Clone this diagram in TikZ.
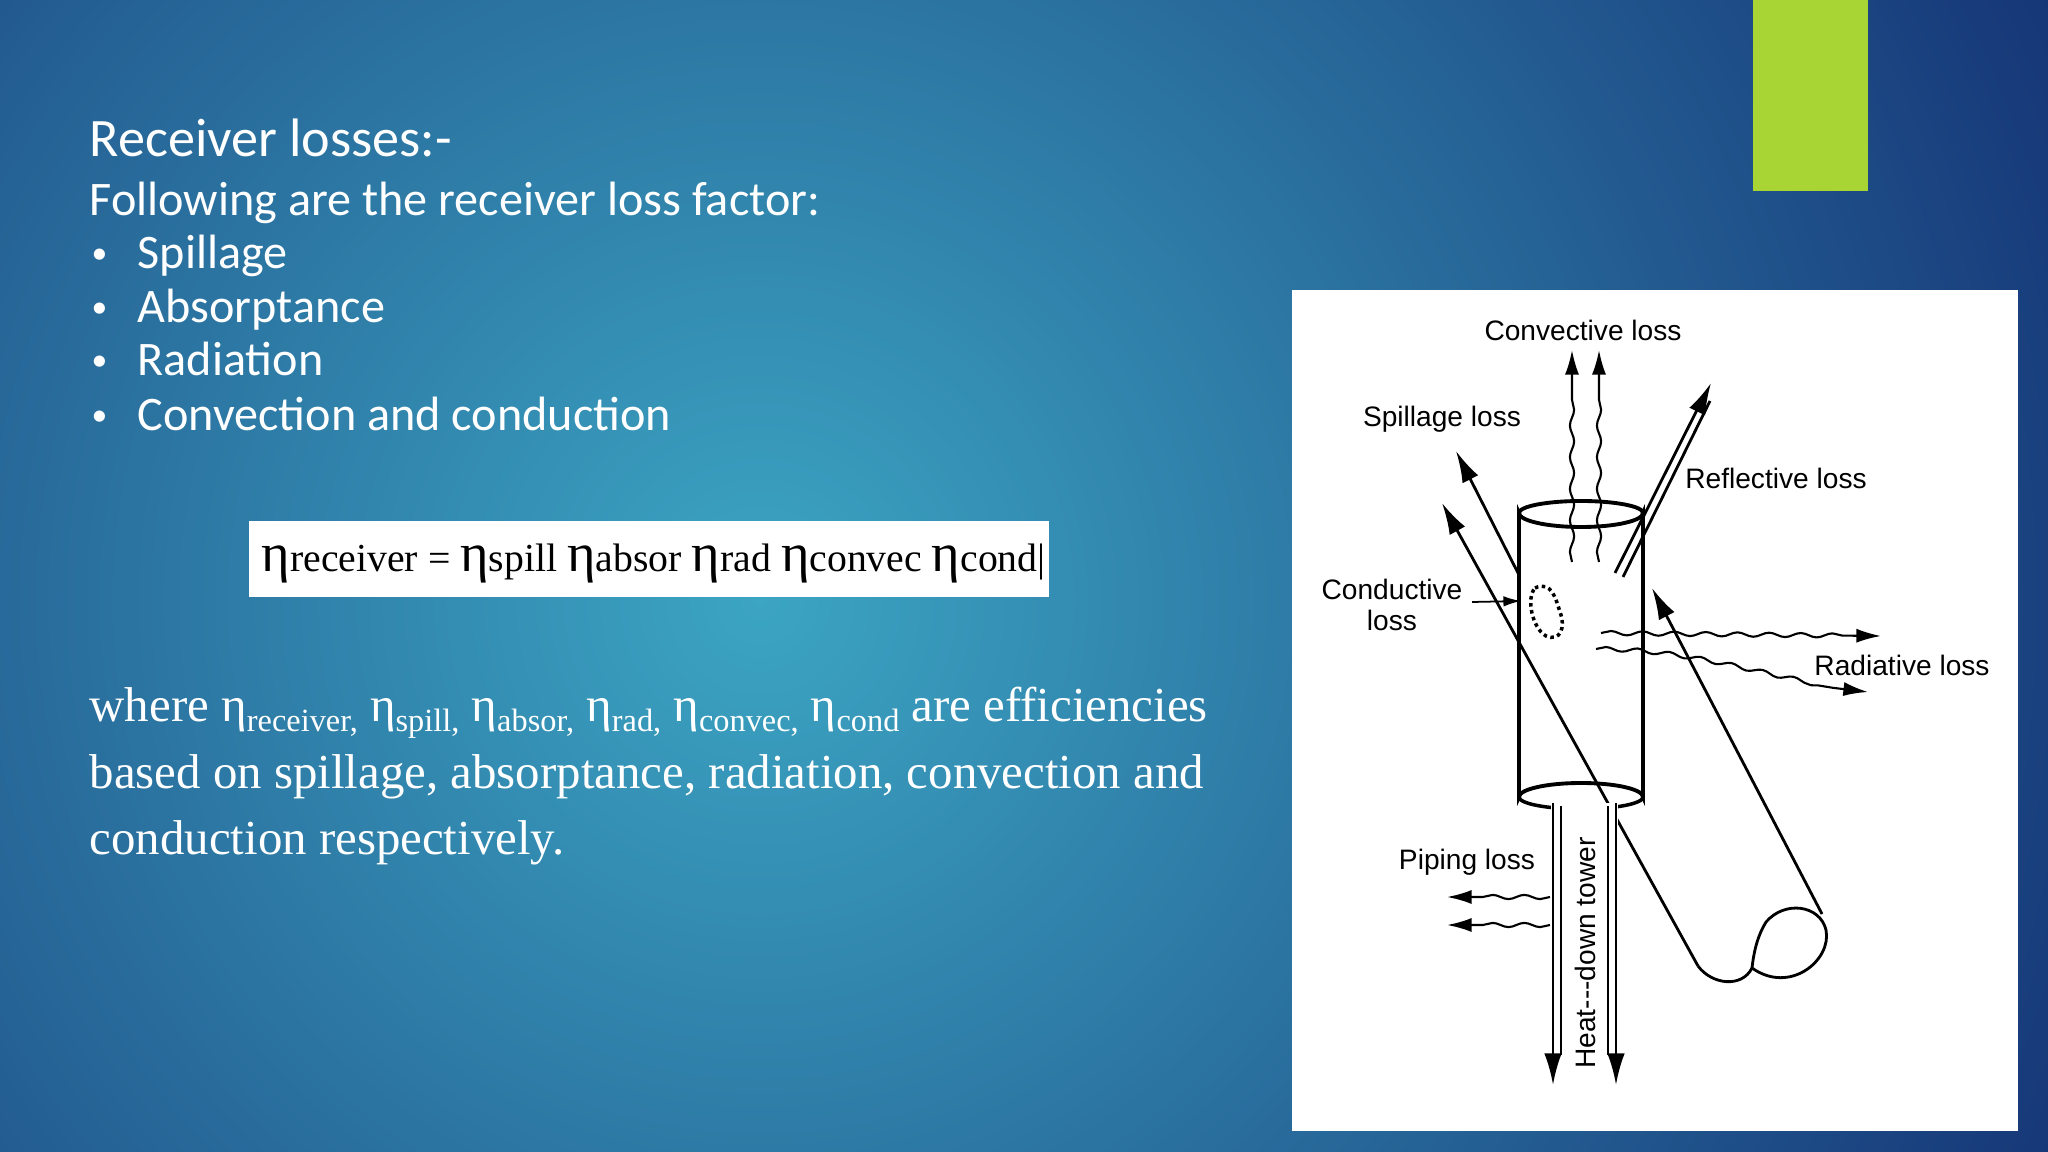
\documentclass[tikz,border=0pt]{standalone}
\usepackage{fontspec}
\setmainfont{Liberation Serif}
\newfontfamily\calfnt{Carlito}
\newfontfamily\lsans{Liberation Sans}
\usetikzlibrary{decorations.pathmorphing,arrows.meta}
\newcommand{\lowtxt}[1]{\raisebox{-0.45ex}{\fontsize{9.2pt}{10pt}\selectfont #1}}
\newcommand{\bigeta}{{\fontsize{15.5pt}{16pt}\selectfont η}}
\begin{document}
\begin{tikzpicture}[x=0.01cm,y=-0.01cm,
  wt/.style={text=white,anchor=base west,inner sep=0},
  lbl/.style={font=\lsans\fontsize{8pt}{9pt}\selectfont,text=black,inner sep=0,align=center},
  wav/.style={decorate,decoration={snake,amplitude=0.6pt,segment length=9pt,post length=10pt},-{Latex[length=7pt,width=4pt]},line width=0.6pt},
  ln/.style={line width=0.8pt},
  arr/.style={-{Latex[length=9pt,width=5pt]},line width=0.8pt}]
\useasboundingbox (0,0) rectangle (2048,1152);
\clip (0,0) rectangle (2048,1152);
\fill[color={rgb,255:red,20;green,48;blue,115}] (0,0) rectangle (2048,1152);
\fill[inner color={rgb,255:red,60;green,165;blue,195},outer color={rgb,255:red,20;green,48;blue,115}] (760,600) circle (1500);
\fill[color={rgb,255:red,168;green,212;blue,52}] (1753,0) rectangle (1868,191);
% text
\node[wt,font=\calfnt\fontsize{15.4pt}{17pt}\selectfont] (t1) at (89,157) {Receiver losses:-};
\node[wt,font=\calfnt\fontsize{13.7pt}{15pt}\selectfont] (t2) at (89,216) {Following are the receiver loss factor:};
\foreach \y/\s [count=\i] in {269/Spillage,323/Absorptance,376/Radiation,431/Convection and conduction}{
  \node[wt,font=\calfnt\fontsize{9pt}{10pt}\selectfont] (b\i) at (91,\y-5) {•};
  \node[wt,font=\calfnt\fontsize{13.7pt}{15pt}\selectfont] (bt\i) at (137,\y) {\s};
}
\fill[white] (249,521) rectangle (1049,597);
\node[anchor=base west,inner sep=0,font=\fontsize{11.3pt}{12pt}\selectfont] (eq) at (261,571)
 {\bigeta receiver = \bigeta spill \bigeta absor \bigeta rad \bigeta convec \bigeta cond|};
\node[wt,font=\fontsize{13.9pt}{15pt}\selectfont] (w1) at (89,721) {where η\lowtxt{receiver,} η\lowtxt{spill,} η\lowtxt{absor,} η\lowtxt{rad,} η\lowtxt{convec,} η\lowtxt{cond} are efficiencies};
\node[wt,font=\fontsize{13.9pt}{15pt}\selectfont] (w2) at (89,788) {based on spillage, absorptance, radiation, convection and};
\node[wt,font=\fontsize{13.9pt}{15pt}\selectfont] (w3) at (89,854) {conduction respectively.};
% diagram panel
\fill[white] (1292,290) rectangle (2018,1131);
% inclined tube
\coordinate (tl) at (1698,966);
\coordinate (tr) at (1822,914);
\draw[ln] (tl) .. controls (1712,985) and (1742,988) .. (1752,968);
\draw[ln] (1752,968) .. controls (1790,995) and (1832,960) .. (1826,930) .. controls (1820,905) and (1785,900) .. (1766,922) .. controls (1758,935) and (1754,950) .. (1752,968);
\draw[arr] (tr) -- (1652,588);
% cylinder
\filldraw[fill=white,line width=1.1pt] (1519,513) -- (1519,797) arc (180:360:62 and 14) -- (1643,513) arc (0:180:62 and 14) -- cycle;
\draw[line width=1.1pt] (1519,513) arc (180:360:62 and 12);
\draw[line width=1pt] (1519,797) arc (180:0:62 and 12);
% spillage arrows
\draw[arr] (tl) -- (1442,503);
\draw[arr] (1519,575) -- (1456,451);
% heat-down tower
\fill[white] (1551,803) rectangle (1618,1085);
\draw[arr] (1553,803) -- (1553,1085);
\draw[ln] (1561,806) -- (1561,1055);
\draw[arr] (1616,803) -- (1616,1085);
\draw[ln] (1608,806) -- (1608,1055);
\node[lbl,rotate=90] (hdt) at (1585,953) {Heat---down tower};
% convective
\draw[wav] (1572,562) -- (1572,350);
\draw[wav] (1599,562) -- (1599,350);
% reflective
\draw[ln] (1615,573) -- (1703,398);
\draw[ln] (1623,577) -- (1710,401);
\draw[arr] (1698,410) -- (1711,383);
% radiative
\draw[wav] (1601,633) -- (1881,636);
\draw[wav] (1596,649) .. controls (1700,650) and (1780,685) .. (1868,692);
% piping
\draw[wav] (1550,897) -- (1447,897);
\draw[wav] (1550,925) -- (1447,925);
% conductive
\draw[-{Latex[length=5pt,width=3pt]},line width=0.5pt] (1472,602) -- (1521,601);
\draw[densely dotted,line width=1pt] (1535,588) .. controls (1552,580) and (1556,600) .. (1560,612) .. controls (1566,628) and (1560,642) .. (1546,636) .. controls (1532,628) and (1526,598) .. (1535,588);
% labels
\node[lbl] (cv) at (1583,330) {Convective loss};
\node[lbl] (sp) at (1442,419) {Spillage loss};
\node[lbl] (rf) at (1776,478) {Reflective loss};
\node[lbl] (cd) at (1392,605) {Conductive\\loss};
\node[lbl] (rd) at (1902,665) {Radiative loss};
\node[lbl] (pp) at (1467,862) {Piping loss};
\end{tikzpicture}
\end{document}
